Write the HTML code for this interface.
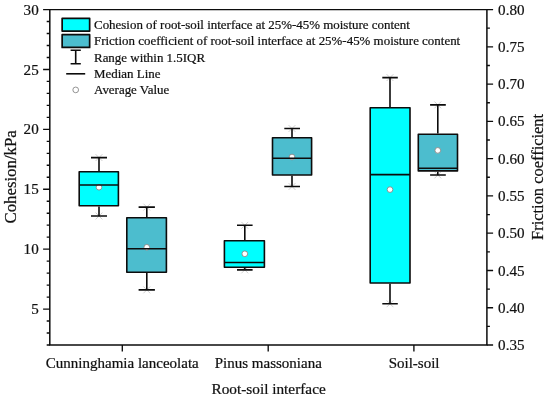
<!DOCTYPE html>
<html><head><meta charset="utf-8">
<style>
html,body{margin:0;padding:0;background:#fff;}
svg{display:block;}
text{font-family:"Liberation Serif",serif;fill:#111;stroke:#111;stroke-width:0.22px;}
.ax{stroke:#0c0c0c;stroke-width:1.5;fill:none;stroke-linecap:butt;stroke-linejoin:miter;}
.tk{stroke:#0c0c0c;stroke-width:1.35;fill:none;}
.bx{stroke:#0c0c0c;stroke-width:1.6;stroke-linejoin:round;}
.c1{fill:#00ffff;}
.c2{fill:#4cbdce;}
.wh{stroke:#0c0c0c;stroke-width:1.6;fill:none;}
.mk{stroke:#b0b0b0;stroke-width:0.6;fill:none;}
.mean{fill:#fff;stroke:#888;stroke-width:0.9;}
.tl{font-size:15.1px;}
.lg{font-size:12.95px;}
.xl{font-size:15px;}
.yl{font-size:15.8px;}
</style></head><body>
<svg width="550" height="400" viewBox="0 0 550 400">
<rect width="550" height="400" fill="#fff"/>
<g>
<path class="mk" d="M95.6 154.2L102.4 161.0M95.6 161.0L102.4 154.2"/>
<path class="mk" d="M95.6 212.6L102.4 219.4M95.6 219.4L102.4 212.6"/>
<path class="wh" d="M99.0 157.6V171.0M99.0 206.6V216.0M91.0 157.6H107.0M91.0 216.0H107.0"/>
<rect class="bx c1" x="79.20" y="171.80" width="39.20" height="34.00"/>
<circle class="mean" cx="99.0" cy="187.2" r="2.85"/>
<path class="wh" d="M79.2 185.0H118.4"/>
</g>
<g>
<path class="mk" d="M143.4 203.7L150.2 210.5M143.4 210.5L150.2 203.7"/>
<path class="mk" d="M143.4 286.5L150.2 293.3M143.4 293.3L150.2 286.5"/>
<path class="wh" d="M146.8 207.1V217.0M146.8 273.0V289.9M138.6 207.1H154.9M138.6 289.9H154.9"/>
<rect class="bx c2" x="126.80" y="217.80" width="39.60" height="54.40"/>
<circle class="mean" cx="146.8" cy="247.3" r="2.85"/>
<path class="wh" d="M126.8 248.8H166.4"/>
</g>
<g>
<path class="mk" d="M241.4 221.9L248.2 228.7M241.4 228.7L248.2 221.9"/>
<path class="mk" d="M241.4 266.5L248.2 273.3M241.4 273.3L248.2 266.5"/>
<path class="wh" d="M244.8 225.3V240.0M244.8 268.0V269.9M237.0 225.3H252.6M237.0 269.9H252.6"/>
<rect class="bx c1" x="224.40" y="240.80" width="40.00" height="26.40"/>
<circle class="mean" cx="244.8" cy="253.8" r="2.85"/>
<path class="wh" d="M224.4 262.5H264.4"/>
</g>
<g>
<path class="mk" d="M288.6 125.1L295.4 131.9M288.6 131.9L295.4 125.1"/>
<path class="mk" d="M288.6 183.1L295.4 189.9M288.6 189.9L295.4 183.1"/>
<path class="wh" d="M292.0 128.5V137.0M292.0 175.8V186.5M284.3 128.5H300.0M284.3 186.5H300.0"/>
<rect class="bx c2" x="272.50" y="137.80" width="39.10" height="37.20"/>
<circle class="mean" cx="292.0" cy="157.0" r="2.85"/>
<path class="wh" d="M272.5 158.2H311.6"/>
</g>
<g>
<path class="mk" d="M386.6 74.2L393.4 81.0M386.6 81.0L393.4 74.2"/>
<path class="mk" d="M386.6 300.4L393.4 307.2M386.6 307.2L393.4 300.4"/>
<path class="wh" d="M390.0 77.6V107.0M390.0 283.8V303.8M382.3 77.6H397.8M382.3 303.8H397.8"/>
<rect class="bx c1" x="370.20" y="107.80" width="39.80" height="175.20"/>
<circle class="mean" cx="390.0" cy="189.6" r="2.85"/>
<path class="wh" d="M370.2 174.6H410.0"/>
</g>
<g>
<path class="mk" d="M434.4 101.5L441.2 108.3M434.4 108.3L441.2 101.5"/>
<path class="mk" d="M434.4 171.6L441.2 178.4M434.4 178.4L441.2 171.6"/>
<path class="wh" d="M437.8 104.9V133.5M437.8 171.7V175.0M430.1 104.9H445.8M430.1 175.0H445.8"/>
<rect class="bx c2" x="418.30" y="134.30" width="39.20" height="36.60"/>
<circle class="mean" cx="437.8" cy="150.4" r="2.85"/>
<path class="wh" d="M418.3 168.2H457.5"/>
</g>
<path class="ax" style="stroke-width:1.2" d="M49.8 9.55H486.9"/>
<path class="ax" d="M49.8 8.950000000000001V345.0H486.9V8.950000000000001"/>
<path class="tk" d="M49.8 344.99H46.7M49.8 333.01H46.7M49.8 321.03H46.7M49.8 309.05H43.1M49.8 297.07H46.7M49.8 285.09H46.7M49.8 273.11H46.7M49.8 261.13H46.7M49.8 249.15H43.1M49.8 237.17H46.7M49.8 225.19H46.7M49.8 213.21H46.7M49.8 201.23H46.7M49.8 189.25H43.1M49.8 177.27H46.7M49.8 165.29H46.7M49.8 153.31H46.7M49.8 141.33H46.7M49.8 129.35H43.1M49.8 117.37H46.7M49.8 105.39H46.7M49.8 93.41H46.7M49.8 81.43H46.7M49.8 69.45H43.1M49.8 57.47H46.7M49.8 45.49H46.7M49.8 33.51H46.7M49.8 21.53H46.7M49.8 9.55H43.1"/>
<path class="tk" d="M486.9 345.00H493.1M486.9 326.36H489.9M486.9 307.73H493.1M486.9 289.09H489.9M486.9 270.45H493.1M486.9 251.82H489.9M486.9 233.18H493.1M486.9 214.55H489.9M486.9 195.91H493.1M486.9 177.27H489.9M486.9 158.64H493.1M486.9 140.00H489.9M486.9 121.37H493.1M486.9 102.73H489.9M486.9 84.09H493.1M486.9 65.46H489.9M486.9 46.82H493.1M486.9 28.19H489.9M486.9 9.55H493.1"/>
<path class="tk" d="M122.3 345.0V351.4M268.2 345.0V351.4M413.9 345.0V351.4"/>
<text class="tl" x="38.7" y="314.1" text-anchor="end">5</text>
<text class="tl" x="38.7" y="254.2" text-anchor="end">10</text>
<text class="tl" x="38.7" y="194.3" text-anchor="end">15</text>
<text class="tl" x="38.7" y="134.4" text-anchor="end">20</text>
<text class="tl" x="38.7" y="74.5" text-anchor="end">25</text>
<text class="tl" x="38.7" y="14.6" text-anchor="end">30</text>
<text class="tl" x="498.1" y="350.0">0.35</text>
<text class="tl" x="498.1" y="312.7">0.40</text>
<text class="tl" x="498.1" y="275.5">0.45</text>
<text class="tl" x="498.1" y="238.2">0.50</text>
<text class="tl" x="498.1" y="200.9">0.55</text>
<text class="tl" x="498.1" y="163.6">0.60</text>
<text class="tl" x="498.1" y="126.4">0.65</text>
<text class="tl" x="498.1" y="89.1">0.70</text>
<text class="tl" x="498.1" y="51.8">0.75</text>
<text class="tl" x="498.1" y="14.6">0.80</text>
<text class="xl" x="122.3" y="367.7" text-anchor="middle">Cunninghamia lanceolata</text>
<text class="xl" x="268.3" y="367.7" text-anchor="middle">Pinus massoniana</text>
<text class="xl" x="414.1" y="367.7" text-anchor="middle">Soil-soil</text>
<text class="xl" style="font-size:15.3px" x="268.6" y="394" text-anchor="middle">Root-soil interface</text>
<text class="yl" transform="translate(15.7 176.9) rotate(-90) scale(1.063 1)" text-anchor="middle">Cohesion/kPa</text>
<text class="yl" transform="translate(542.6 176.9) rotate(-90) scale(1.041 1)" text-anchor="middle">Friction coefficient</text>
<rect class="bx c1" style="stroke-width:1.7" x="62.15" y="18.35" width="27.5" height="12.7"/>
<rect class="bx c2" style="stroke-width:1.7" x="62.15" y="34.65" width="27.5" height="12.8"/>
<path class="wh" d="M75.7 50.3V63.8M70.6 50.3H80.8M70.6 63.8H80.8"/>
<path class="wh" d="M66.2 73.8H85.2"/>
<circle class="mean" cx="75.7" cy="89.9" r="2.85"/>
<text class="lg" x="94.0" y="29.0">Cohesion of root-soil interface at 25%-45% moisture content</text>
<text class="lg" x="94.0" y="45.3">Friction coefficient of root-soil interface at 25%-45% moisture content</text>
<text class="lg" x="94.0" y="61.6">Range within 1.5IQR</text>
<text class="lg" x="94.0" y="77.9">Median Line</text>
<text class="lg" x="94.0" y="94.2">Average Value</text>
</svg>
</body></html>
